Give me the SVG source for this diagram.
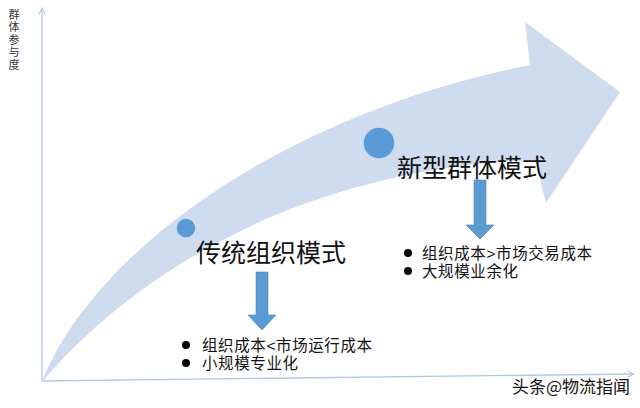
<svg xmlns="http://www.w3.org/2000/svg" width="640" height="408" viewBox="0 0 640 408">
<defs>
<style>
.t{font-family:"Noto Sans CJK SC","Noto Sans",sans-serif;fill:#111}
.title{font-size:25px}
.item{font-family:"Liberation Sans","Noto Sans CJK SC",sans-serif;font-size:15.5px;letter-spacing:0.6px;fill:#111}
.axl{font-size:11px;fill:#333;writing-mode:vertical-rl;letter-spacing:1.5px}
.dot{fill:#5b9bd5;stroke:#c9dcf0;stroke-width:1.5}
.down{fill:#5b9bd5;stroke:#4a86c0;stroke-width:0.6}
.axis{stroke:#b4c7e7;stroke-width:1.3;fill:none}
.bul{fill:#000}
</style>
<marker id="ah" viewBox="0 0 10 10" refX="9" refY="5" markerWidth="8" markerHeight="8" orient="auto" markerUnits="userSpaceOnUse">
<path d="M1,1 L9,5 L1,9" fill="none" stroke="#b4c7e7" stroke-width="1.3"/>
</marker>
</defs>
<rect width="640" height="408" fill="#fff"/>
<g id="axes">
<line class="axis" x1="42" y1="381" x2="42" y2="8" marker-end="url(#ah)"/>
<line class="axis" x1="42" y1="381" x2="634" y2="374" marker-end="url(#ah)"/>
<text class="t axl" x="14" y="9">群体参与度</text>
</g>
<g id="bigArrow">
<path d="M42,381 C100,240 300,110 530,65 L525,22 L620,92 L546,203 L535,160 C280,170 120,290 43,381 Z" fill="#cfdbee"/>
</g>
<g id="connectors">
<path class="down" d="M256,272 H268 V315 H276 L262,330 L248,315 H256 Z"/>
<path class="down" d="M474,180 H486 V225 H494 L480,239 L466,225 H474 Z"/>
</g>
<g id="node-traditional">
<circle class="dot" cx="186" cy="228" r="10"/>
<text class="t title" x="196" y="262">传统组织模式</text>
<circle class="bul" cx="186" cy="345" r="4"/>
<circle class="bul" cx="186" cy="363" r="4"/>
<text class="item"><tspan x="202" y="351">组织成本&lt;市场运行成本</tspan><tspan x="202" y="369">小规模专业化</tspan></text>
</g>
<g id="node-new">
<circle class="dot" cx="379" cy="143" r="16"/>
<text class="t title" x="397" y="177">新型群体模式</text>
<circle class="bul" cx="408" cy="253" r="4"/>
<circle class="bul" cx="408" cy="271" r="4"/>
<text class="item"><tspan x="422" y="259">组织成本&gt;市场交易成本</tspan><tspan x="422" y="277">大规模业余化</tspan></text>
</g>
<g id="watermark">
<text class="t" x="512" y="393" font-size="17" fill="#222" stroke="#fff" stroke-width="2.5" paint-order="stroke">头条@物流指闻</text>
</g>
</svg>
